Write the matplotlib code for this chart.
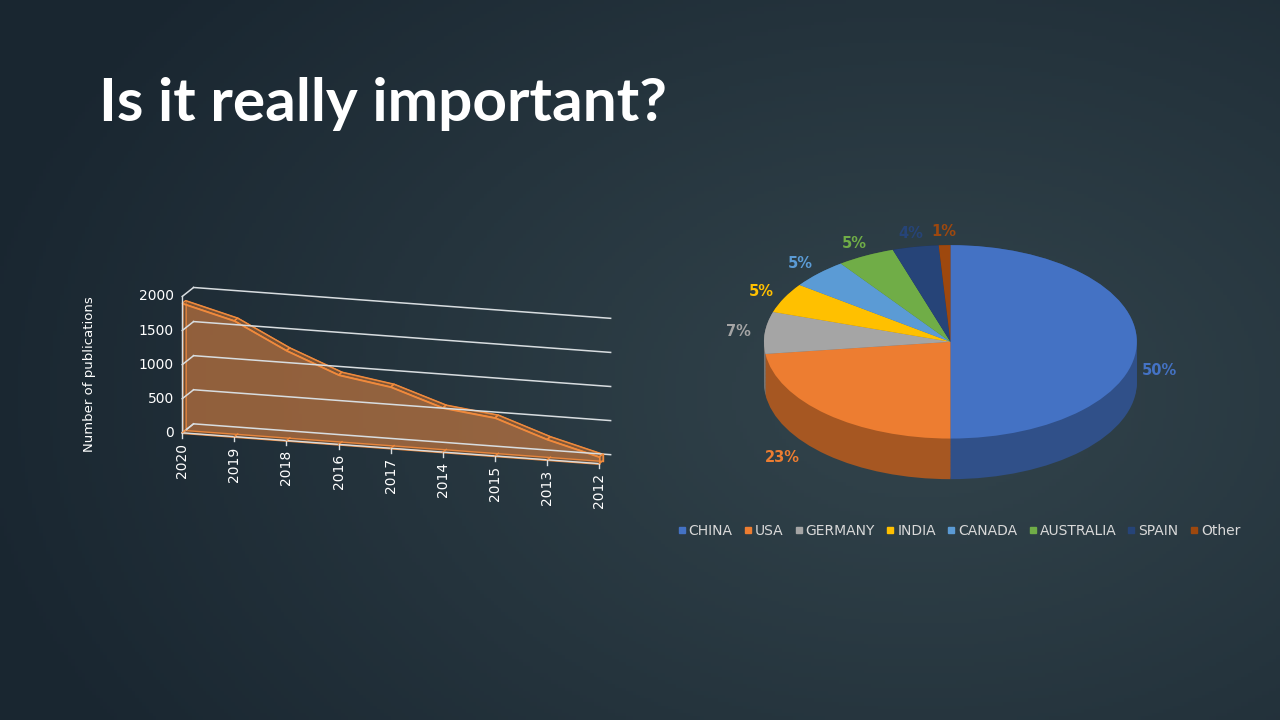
import numpy as np
import matplotlib
matplotlib.use("Agg")
import matplotlib.pyplot as plt
from matplotlib.lines import Line2D
from mpl_toolkits.mplot3d.art3d import Poly3DCollection
from mpl_toolkits.mplot3d import proj3d

years = ["2020", "2019", "2018", "2016", "2017", "2014", "2015", "2013", "2012"]
pubs = [1900, 1700, 1320, 1020, 900, 650, 560, 300, 100]
zticks = [0, 500, 1000, 1500, 2000]

countries = ["CHINA", "USA", "GERMANY", "INDIA", "CANADA", "AUSTRALIA", "SPAIN", "Other"]
shares = [50, 23, 7, 5, 5, 5, 4, 1]
pie_colors = ["#4472c4", "#ed7d31", "#a5a5a5", "#ffc000", "#5b9bd5", "#70ad47", "#264478", "#9e480e"]

fig = plt.figure(figsize=(12.8, 7.2), dpi=100)

bg = fig.add_axes([0, 0, 1, 1])
yy, xx = np.mgrid[0:1:200j, 0:1:360j]
r = np.sqrt(((xx - 0.72) * 1.2) ** 2 + (yy - 0.55) ** 2)
t = np.clip(1 - r / 0.9, 0, 1)
c0 = np.array([0.10, 0.15, 0.19]); c1 = np.array([0.20, 0.27, 0.30])
img = c0[None, None, :] + (c1 - c0)[None, None, :] * t[..., None]
bg.imshow(img, extent=[0, 1, 0, 1], aspect="auto", origin="upper")
bg.set_axis_off()

fig.text(0.077, 0.855, "Is it really important?", color="white", fontsize=43.5,
         fontweight="bold", family="Lato", va="center")

# ---- left 3D area chart
ax = fig.add_axes([0.0, 0.16, 0.61, 0.62], projection="3d", computed_zorder=False)
ax.set_proj_type("ortho")
ax.view_init(elev=14, azim=-73)
n = len(years)
xs = np.arange(n)
ax.set_xlim(0, n - 1); ax.set_ylim(0, 1); ax.set_zlim(0, 2000)
ax.set_box_aspect((9, 0.8, 2.9))
ax.set_axis_off()
ax.patch.set_alpha(0)
grid_c = "#d8dde0"
for z in zticks:
    ax.plot([0, n - 1], [1, 1], [z, z], color=grid_c, lw=1.1)
    ax.plot([0, 0], [0, 1], [z, z], color=grid_c, lw=1.1)
ax.plot([0, 0], [0, 0], [0, 2000], color=grid_c, lw=1)
ax.plot([0, n - 1], [0, 0], [0, 0], color=grid_c, lw=1)
ax.plot([0, 0], [0, 1], [0, 0], color=grid_c, lw=1)
d = 0.3
fc = (0.85, 0.5, 0.25, 0.38); ec = "#f08a3c"
front = [list(zip(xs, [0] * n, pubs)) + [(n - 1, 0, 0), (0, 0, 0)]]
back = [list(zip(xs, [d] * n, pubs)) + [(n - 1, d, 0), (0, d, 0)]]
ax.add_collection3d(Poly3DCollection(back, facecolor=fc, edgecolor=ec, lw=1))
tops = [[(xs[i], 0, pubs[i]), (xs[i + 1], 0, pubs[i + 1]), (xs[i + 1], d, pubs[i + 1]), (xs[i], d, pubs[i])] for i in range(n - 1)]
ax.add_collection3d(Poly3DCollection(tops, facecolor=(0.55, 0.35, 0.2, 0.5), edgecolor=ec, lw=1))
ax.add_collection3d(Poly3DCollection(front, facecolor=fc, edgecolor=ec, lw=1.2))
for x in xs:
    ax.plot([x, x], [0, d], [0, 0], color=ec, lw=1)
ax.plot([n - 1, n - 1], [0, d], [pubs[-1], pubs[-1]], color=ec, lw=1)
ax.plot([n - 1, n - 1], [d, d], [0, pubs[-1]], color=ec, lw=1)

fig.canvas.draw()
M = ax.get_proj()
for z in zticks:
    px, py, _ = proj3d.proj_transform(0, 0, z, M)
    ax.annotate(str(z), (px, py), xycoords="data", xytext=(-6, 0), textcoords="offset points",
                color="white", fontsize=10, ha="right", va="center")
for x, lab in zip(xs, years):
    px, py, _ = proj3d.proj_transform(x, 0, 0, M)
    ax.plot([x, x], [0, 0], [0, -70], color=grid_c, lw=1)
    ax.annotate(lab, (px, py), xycoords="data", xytext=(0, -7), textcoords="offset points",
                color="white", fontsize=10, rotation=90, ha="center", va="top")
fig.text(0.07, 0.48, "Number of publications", color="white", fontsize=9.5, rotation=90, ha="center", va="center")

# ---- right pie (pseudo 3D)
pax = fig.add_axes([0.575, 0.27, 0.335, 0.45])
def dark(c, f):
    rgb = np.array(matplotlib.colors.to_rgb(c)); return tuple(rgb * f)
depth = 0.42
for k in np.linspace(depth, 0.0, 30):
    pax.pie(shares, colors=[dark(c, 0.7) for c in pie_colors], startangle=90, counterclock=False,
            center=(0, -k), radius=1.0, frame=True)
wedges, _, autot = pax.pie(shares, colors=pie_colors, startangle=90, counterclock=False,
                           autopct="%d%%", pctdistance=1.14, radius=1.0, frame=True,
                           textprops=dict(fontsize=10.5, fontweight="bold"))
for tt, c in zip(autot, pie_colors):
    tt.set_color(c)
autot[0].set_position((1.12, -0.3)); autot[1].set_position((-0.9, -1.2))
pax.set_xlim(-1.15, 1.15); pax.set_ylim(-1.9, 1.45)
pax.set_aspect("auto")
pax.set_axis_off()

handles = [Line2D([], [], marker="s", ls="", color=c, markersize=5) for c in pie_colors]
fig.legend(handles, countries, loc="center", bbox_to_anchor=(0.748, 0.262), ncol=8, frameon=False,
           fontsize=10, handletextpad=0.0, columnspacing=0.6, handlelength=1.0, labelcolor="#d9d9d9")

fig.savefig("out.png", dpi=100)
